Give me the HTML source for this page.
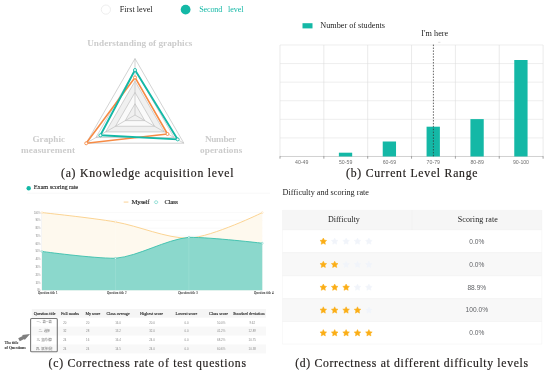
<!DOCTYPE html>
<html><head><meta charset="utf-8"><title>Figure</title>
<style>html,body{margin:0;padding:0;background:#fff}svg{display:block}</style></head>
<body>
<svg width="550" height="373" viewBox="0 0 550 373">
<rect width="550" height="373" fill="#ffffff"/>
<circle cx="105.9" cy="9.6" r="4.6" fill="#fff" stroke="#e6e6e6" stroke-width="0.7"/>
<text x="119.8" y="12.0" font-family='"Liberation Serif", serif' font-size="8.1" font-weight="normal" fill="#222" text-anchor="start" textLength="32.8" lengthAdjust="spacing" >First level</text>
<circle cx="185.6" cy="9.6" r="4.9" fill="#14b8a6"/>
<text x="199.2" y="12.0" font-family='"Liberation Serif", serif' font-size="8.1" font-weight="normal" fill="#14b8a6" text-anchor="start" textLength="23.1" lengthAdjust="spacing" >Second</text>
<text x="228.0" y="12.0" font-family='"Liberation Serif", serif' font-size="8.1" font-weight="normal" fill="#14b8a6" text-anchor="start" textLength="15.4" lengthAdjust="spacing" >level</text>
<text x="87.2" y="46.0" font-family='"Liberation Serif", serif' font-size="9.2" font-weight="bold" fill="#cccccc" text-anchor="start" textLength="105.1" lengthAdjust="spacing" >Understanding of graphics</text>
<text x="32.5" y="141.5" font-family='"Liberation Serif", serif' font-size="9.2" font-weight="bold" fill="#cccccc" text-anchor="start" textLength="32.5" lengthAdjust="spacing" >Graphic</text>
<text x="21.0" y="152.9" font-family='"Liberation Serif", serif' font-size="9.2" font-weight="bold" fill="#cccccc" text-anchor="start" textLength="54.0" lengthAdjust="spacing" >measurement</text>
<text x="205.0" y="141.5" font-family='"Liberation Serif", serif' font-size="9.2" font-weight="bold" fill="#cccccc" text-anchor="start" textLength="31.0" lengthAdjust="spacing" >Number</text>
<text x="200.0" y="153.2" font-family='"Liberation Serif", serif' font-size="9.2" font-weight="bold" fill="#cccccc" text-anchor="start" textLength="42.3" lengthAdjust="spacing" >operations</text>
<polygon points="135.00,58.60 183.84,143.20 86.16,143.20" fill="#ffffff" stroke="#c0c0c0" stroke-width="0.7"/>
<polygon points="135.00,69.88 174.08,137.56 95.92,137.56" fill="#ffffff" stroke="#c0c0c0" stroke-width="0.7"/>
<polygon points="135.00,81.16 164.31,131.92 105.69,131.92" fill="#f0f0f0" stroke="#c0c0c0" stroke-width="0.7"/>
<polygon points="135.00,92.44 154.54,126.28 115.46,126.28" fill="#fafafa" stroke="#c0c0c0" stroke-width="0.7"/>
<polygon points="135.00,103.72 144.77,120.64 125.23,120.64" fill="#f0f0f0" stroke="#c0c0c0" stroke-width="0.7"/>
<line x1="135.00" y1="115.00" x2="135.00" y2="58.60" stroke="#c0c0c0" stroke-width="0.7" />
<line x1="135.00" y1="115.00" x2="183.84" y2="143.20" stroke="#c0c0c0" stroke-width="0.7" />
<line x1="135.00" y1="115.00" x2="86.16" y2="143.20" stroke="#c0c0c0" stroke-width="0.7" />
<polygon points="135.0,77.4 167.5,134.0 86.2,143.3" fill="none" stroke="#f68b45" stroke-width="1.6" stroke-linejoin="round"/>
<circle cx="135.0" cy="77.4" r="1.5" fill="#fff" stroke="#f68b45" stroke-width="0.9"/>
<circle cx="167.5" cy="134.0" r="1.5" fill="#fff" stroke="#f68b45" stroke-width="0.9"/>
<circle cx="86.2" cy="143.3" r="1.5" fill="#fff" stroke="#f68b45" stroke-width="0.9"/>
<polygon points="135.0,70.0 177.7,139.4 100.4,135.3" fill="none" stroke="#14b8a6" stroke-width="1.9" stroke-linejoin="round"/>
<circle cx="135.0" cy="70.0" r="1.5" fill="#fff" stroke="#14b8a6" stroke-width="0.9"/>
<circle cx="177.7" cy="139.4" r="1.5" fill="#fff" stroke="#14b8a6" stroke-width="0.9"/>
<circle cx="100.4" cy="135.3" r="1.5" fill="#fff" stroke="#14b8a6" stroke-width="0.9"/>
<text x="61.0" y="177.1" font-family='"Liberation Serif", serif' font-size="11.7" font-weight="normal" fill="#262220" text-anchor="start" textLength="172.5" lengthAdjust="spacing"  stroke="#262220" stroke-width="0.18">(a) Knowledge acquisition level</text>
<rect x="302.50" y="23.20" width="10.00" height="5.20" fill="#14b8a6" />
<text x="320.3" y="27.7" font-family='"Liberation Serif", serif' font-size="8.2" font-weight="normal" fill="#222" text-anchor="start" textLength="64.7" lengthAdjust="spacing" >Number of students</text>
<text x="421.3" y="36.1" font-family='"Liberation Serif", serif' font-size="8.2" font-weight="normal" fill="#222" text-anchor="start" textLength="26.9" lengthAdjust="spacing" >I'm here</text>
<line x1="280.00" y1="45.00" x2="543.10" y2="45.00" stroke="#e6e6e6" stroke-width="0.7" />
<line x1="280.00" y1="63.58" x2="543.10" y2="63.58" stroke="#e6e6e6" stroke-width="0.7" />
<line x1="280.00" y1="82.16" x2="543.10" y2="82.16" stroke="#e6e6e6" stroke-width="0.7" />
<line x1="280.00" y1="100.74" x2="543.10" y2="100.74" stroke="#e6e6e6" stroke-width="0.7" />
<line x1="280.00" y1="119.32" x2="543.10" y2="119.32" stroke="#e6e6e6" stroke-width="0.7" />
<line x1="280.00" y1="137.90" x2="543.10" y2="137.90" stroke="#e6e6e6" stroke-width="0.7" />
<line x1="280.00" y1="45.00" x2="280.00" y2="158.48" stroke="#dcdcdc" stroke-width="0.6" />
<line x1="323.85" y1="45.00" x2="323.85" y2="158.48" stroke="#dcdcdc" stroke-width="0.6" />
<line x1="367.70" y1="45.00" x2="367.70" y2="158.48" stroke="#dcdcdc" stroke-width="0.6" />
<line x1="411.55" y1="45.00" x2="411.55" y2="158.48" stroke="#dcdcdc" stroke-width="0.6" />
<line x1="455.40" y1="45.00" x2="455.40" y2="158.48" stroke="#dcdcdc" stroke-width="0.6" />
<line x1="499.25" y1="45.00" x2="499.25" y2="158.48" stroke="#dcdcdc" stroke-width="0.6" />
<line x1="543.10" y1="45.00" x2="543.10" y2="158.48" stroke="#dcdcdc" stroke-width="0.6" />
<line x1="280.00" y1="156.48" x2="543.10" y2="156.48" stroke="#b0b0b0" stroke-width="0.6" />
<line x1="280.00" y1="156.18" x2="280.00" y2="158.68" stroke="#777" stroke-width="0.6" />
<line x1="323.85" y1="156.18" x2="323.85" y2="158.68" stroke="#777" stroke-width="0.6" />
<line x1="367.70" y1="156.18" x2="367.70" y2="158.68" stroke="#777" stroke-width="0.6" />
<line x1="411.55" y1="156.18" x2="411.55" y2="158.68" stroke="#777" stroke-width="0.6" />
<line x1="455.40" y1="156.18" x2="455.40" y2="158.68" stroke="#777" stroke-width="0.6" />
<line x1="499.25" y1="156.18" x2="499.25" y2="158.68" stroke="#777" stroke-width="0.6" />
<line x1="543.10" y1="156.18" x2="543.10" y2="158.68" stroke="#777" stroke-width="0.6" />
<text x="295.0" y="163.7" font-family='"Liberation Sans", sans-serif' font-size="5.2" font-weight="normal" fill="#707070" text-anchor="start" textLength="13.4" lengthAdjust="spacing" >40-49</text>
<rect x="338.88" y="152.70" width="13.30" height="3.78" fill="#14b8a6" />
<text x="338.9" y="163.7" font-family='"Liberation Sans", sans-serif' font-size="5.2" font-weight="normal" fill="#707070" text-anchor="start" textLength="13.4" lengthAdjust="spacing" >50-59</text>
<rect x="382.73" y="141.50" width="13.30" height="14.98" fill="#14b8a6" />
<text x="382.7" y="163.7" font-family='"Liberation Sans", sans-serif' font-size="5.2" font-weight="normal" fill="#707070" text-anchor="start" textLength="13.4" lengthAdjust="spacing" >60-69</text>
<rect x="426.58" y="126.70" width="13.30" height="29.78" fill="#14b8a6" />
<text x="426.6" y="163.7" font-family='"Liberation Sans", sans-serif' font-size="5.2" font-weight="normal" fill="#707070" text-anchor="start" textLength="13.4" lengthAdjust="spacing" >70-79</text>
<rect x="470.43" y="119.10" width="13.30" height="37.38" fill="#14b8a6" />
<text x="470.4" y="163.7" font-family='"Liberation Sans", sans-serif' font-size="5.2" font-weight="normal" fill="#707070" text-anchor="start" textLength="13.4" lengthAdjust="spacing" >80-89</text>
<rect x="514.27" y="60.00" width="13.30" height="96.48" fill="#14b8a6" />
<text x="513.0" y="163.7" font-family='"Liberation Sans", sans-serif' font-size="5.2" font-weight="normal" fill="#707070" text-anchor="start" textLength="16.0" lengthAdjust="spacing" >90-100</text>
<line x1="433.40" y1="44.60" x2="433.40" y2="156.48" stroke="#333" stroke-width="0.75" stroke-dasharray="1.5 1.4"/>
<line x1="438.20" y1="42.30" x2="440.40" y2="42.30" stroke="#aaaaaa" stroke-width="0.4" />
<text x="346.0" y="177.1" font-family='"Liberation Serif", serif' font-size="11.7" font-weight="normal" fill="#262220" text-anchor="start" textLength="131.5" lengthAdjust="spacing"  stroke="#262220" stroke-width="0.18">(b) Current Level Range</text>
<circle cx="28.7" cy="188.3" r="2.2" fill="#14b8a6"/>
<text x="33.8" y="189.3" font-family='"Liberation Serif", serif' font-size="6.4" font-weight="normal" fill="#222" text-anchor="start" textLength="44.4" lengthAdjust="spacing"  stroke="#222" stroke-width="0.1">Exam scoring rate</text>
<line x1="27.00" y1="193.20" x2="270.00" y2="193.20" stroke="#eeeeee" stroke-width="0.5" />
<line x1="123.70" y1="202.10" x2="128.40" y2="202.10" stroke="#fcdcae" stroke-width="1.3" />
<text x="131.5" y="204.2" font-family='"Liberation Serif", serif' font-size="6.8" font-weight="normal" fill="#222" text-anchor="start" textLength="17.9" lengthAdjust="spacing"  stroke="#222" stroke-width="0.12">Myself</text>
<line x1="153.60" y1="202.20" x2="158.60" y2="202.20" stroke="#c9ece7" stroke-width="0.6" />
<circle cx="156.1" cy="202.2" r="1.5" fill="#fff" stroke="#5fd0c2" stroke-width="0.6"/>
<text x="164.6" y="204.2" font-family='"Liberation Serif", serif' font-size="6.8" font-weight="normal" fill="#222" text-anchor="start" textLength="13.4" lengthAdjust="spacing"  stroke="#222" stroke-width="0.12">Class</text>
<line x1="42.00" y1="290.30" x2="262.30" y2="290.30" stroke="#f0f0f0" stroke-width="0.4" />
<text x="37.1" y="291.3" font-family='"Liberation Sans", sans-serif' font-size="3" font-weight="normal" fill="#999" text-anchor="start" textLength="3.4" lengthAdjust="spacing" >0%</text>
<line x1="42.00" y1="282.53" x2="262.30" y2="282.53" stroke="#f0f0f0" stroke-width="0.4" />
<text x="35.4" y="283.5" font-family='"Liberation Sans", sans-serif' font-size="3" font-weight="normal" fill="#999" text-anchor="start" textLength="5.1" lengthAdjust="spacing" >10%</text>
<line x1="42.00" y1="274.76" x2="262.30" y2="274.76" stroke="#f0f0f0" stroke-width="0.4" />
<text x="35.4" y="275.8" font-family='"Liberation Sans", sans-serif' font-size="3" font-weight="normal" fill="#999" text-anchor="start" textLength="5.1" lengthAdjust="spacing" >20%</text>
<line x1="42.00" y1="266.99" x2="262.30" y2="266.99" stroke="#f0f0f0" stroke-width="0.4" />
<text x="35.4" y="268.0" font-family='"Liberation Sans", sans-serif' font-size="3" font-weight="normal" fill="#999" text-anchor="start" textLength="5.1" lengthAdjust="spacing" >30%</text>
<line x1="42.00" y1="259.22" x2="262.30" y2="259.22" stroke="#f0f0f0" stroke-width="0.4" />
<text x="35.4" y="260.2" font-family='"Liberation Sans", sans-serif' font-size="3" font-weight="normal" fill="#999" text-anchor="start" textLength="5.1" lengthAdjust="spacing" >40%</text>
<line x1="42.00" y1="251.45" x2="262.30" y2="251.45" stroke="#f0f0f0" stroke-width="0.4" />
<text x="35.4" y="252.4" font-family='"Liberation Sans", sans-serif' font-size="3" font-weight="normal" fill="#999" text-anchor="start" textLength="5.1" lengthAdjust="spacing" >50%</text>
<line x1="42.00" y1="243.68" x2="262.30" y2="243.68" stroke="#f0f0f0" stroke-width="0.4" />
<text x="35.4" y="244.7" font-family='"Liberation Sans", sans-serif' font-size="3" font-weight="normal" fill="#999" text-anchor="start" textLength="5.1" lengthAdjust="spacing" >60%</text>
<line x1="42.00" y1="235.91" x2="262.30" y2="235.91" stroke="#f0f0f0" stroke-width="0.4" />
<text x="35.4" y="236.9" font-family='"Liberation Sans", sans-serif' font-size="3" font-weight="normal" fill="#999" text-anchor="start" textLength="5.1" lengthAdjust="spacing" >70%</text>
<line x1="42.00" y1="228.14" x2="262.30" y2="228.14" stroke="#f0f0f0" stroke-width="0.4" />
<text x="35.4" y="229.1" font-family='"Liberation Sans", sans-serif' font-size="3" font-weight="normal" fill="#999" text-anchor="start" textLength="5.1" lengthAdjust="spacing" >80%</text>
<line x1="42.00" y1="220.37" x2="262.30" y2="220.37" stroke="#f0f0f0" stroke-width="0.4" />
<text x="35.4" y="221.4" font-family='"Liberation Sans", sans-serif' font-size="3" font-weight="normal" fill="#999" text-anchor="start" textLength="5.1" lengthAdjust="spacing" >90%</text>
<line x1="42.00" y1="212.60" x2="262.30" y2="212.60" stroke="#f0f0f0" stroke-width="0.4" />
<text x="33.7" y="213.6" font-family='"Liberation Sans", sans-serif' font-size="3" font-weight="normal" fill="#999" text-anchor="start" textLength="6.8" lengthAdjust="spacing" >100%</text>
<line x1="42.00" y1="212.60" x2="42.00" y2="290.30" stroke="#cccccc" stroke-width="0.4" />
<path d="M42.00,212.60 C42.00,212.60 92.10,217.86 115.40,221.92 C139.11,226.06 165.77,238.24 188.90,238.24 C212.78,236.73 262.30,212.60 262.30,212.60 L262.3,290.3 L42,290.3 Z" fill="#fef9ee"/>
<path d="M42.00,212.60 C42.00,212.60 92.10,217.86 115.40,221.92 C139.11,226.06 165.77,238.24 188.90,238.24 C212.78,236.73 262.30,212.60 262.30,212.60" fill="none" stroke="#fbcf88" stroke-width="0.9"/>
<circle cx="42.0" cy="212.6" r="0.9" fill="#fff" stroke="#fbd28f" stroke-width="0.4"/>
<circle cx="115.4" cy="221.9" r="0.9" fill="#fff" stroke="#fbd28f" stroke-width="0.4"/>
<circle cx="188.9" cy="238.2" r="0.9" fill="#fff" stroke="#fbd28f" stroke-width="0.4"/>
<circle cx="262.3" cy="212.6" r="0.9" fill="#fff" stroke="#fbd28f" stroke-width="0.4"/>
<path d="M42.00,251.45 C42.00,251.45 92.32,258.29 115.40,258.29 C139.33,255.98 164.96,239.77 188.90,237.31 C211.97,237.31 262.30,243.21 262.30,243.21 L262.3,290.3 L42,290.3 Z" fill="#8bd8cc"/>
<path d="M42.00,251.45 C42.00,251.45 92.32,258.29 115.40,258.29 C139.33,255.98 164.96,239.77 188.90,237.31 C211.97,237.31 262.30,243.21 262.30,243.21" fill="none" stroke="#3bbfad" stroke-width="0.9"/>
<circle cx="42.0" cy="251.5" r="0.9" fill="#fff" stroke="#3fc1b0" stroke-width="0.4"/>
<circle cx="115.4" cy="258.3" r="0.9" fill="#fff" stroke="#3fc1b0" stroke-width="0.4"/>
<circle cx="188.9" cy="237.3" r="0.9" fill="#fff" stroke="#3fc1b0" stroke-width="0.4"/>
<circle cx="262.3" cy="243.2" r="0.9" fill="#fff" stroke="#3fc1b0" stroke-width="0.4"/>
<line x1="115.40" y1="212.60" x2="115.40" y2="290.30" stroke="#ffffff" stroke-width="0.3" opacity="0.35"/>
<line x1="188.90" y1="212.60" x2="188.90" y2="290.30" stroke="#ffffff" stroke-width="0.3" opacity="0.35"/>
<text x="38.0" y="294.3" font-family='"Liberation Serif", serif' font-size="3.1" font-weight="normal" fill="#333" text-anchor="start" textLength="19.6" lengthAdjust="spacing"  stroke="#333" stroke-width="0.08">Question title 1</text>
<text x="107.0" y="294.3" font-family='"Liberation Serif", serif' font-size="3.1" font-weight="normal" fill="#333" text-anchor="start" textLength="19.6" lengthAdjust="spacing"  stroke="#333" stroke-width="0.08">Question title 2</text>
<text x="178.2" y="294.3" font-family='"Liberation Serif", serif' font-size="3.1" font-weight="normal" fill="#333" text-anchor="start" textLength="19.6" lengthAdjust="spacing"  stroke="#333" stroke-width="0.08">Question title 3</text>
<text x="254.0" y="294.3" font-family='"Liberation Serif", serif' font-size="3.1" font-weight="normal" fill="#333" text-anchor="start" textLength="19.6" lengthAdjust="spacing"  stroke="#333" stroke-width="0.08">Question title 4</text>
<rect x="31.80" y="309.00" width="234.20" height="8.70" fill="#f5f5f5" />
<rect x="31.80" y="326.55" width="234.20" height="8.95" fill="#f8f8f8" />
<rect x="31.80" y="344.45" width="234.20" height="8.95" fill="#f8f8f8" />
<text x="33.7" y="314.9" font-family='"Liberation Serif", serif' font-size="4.2" font-weight="normal" fill="#222" text-anchor="start" textLength="21.9" lengthAdjust="spacing"  stroke="#222" stroke-width="0.1">Question title</text>
<text x="61.0" y="314.9" font-family='"Liberation Serif", serif' font-size="4.2" font-weight="normal" fill="#222" text-anchor="start" textLength="18.0" lengthAdjust="spacing"  stroke="#222" stroke-width="0.1">Full marks</text>
<text x="85.5" y="314.9" font-family='"Liberation Serif", serif' font-size="4.2" font-weight="normal" fill="#222" text-anchor="start" textLength="14.8" lengthAdjust="spacing"  stroke="#222" stroke-width="0.1">My score</text>
<text x="106.4" y="314.9" font-family='"Liberation Serif", serif' font-size="4.2" font-weight="normal" fill="#222" text-anchor="start" textLength="23.4" lengthAdjust="spacing"  stroke="#222" stroke-width="0.1">Class average</text>
<text x="140.0" y="314.9" font-family='"Liberation Serif", serif' font-size="4.2" font-weight="normal" fill="#222" text-anchor="start" textLength="23.0" lengthAdjust="spacing"  stroke="#222" stroke-width="0.1">Highest score</text>
<text x="175.4" y="314.9" font-family='"Liberation Serif", serif' font-size="4.2" font-weight="normal" fill="#222" text-anchor="start" textLength="21.9" lengthAdjust="spacing"  stroke="#222" stroke-width="0.1">Lowest score</text>
<text x="209.0" y="314.9" font-family='"Liberation Serif", serif' font-size="4.2" font-weight="normal" fill="#222" text-anchor="start" textLength="19.0" lengthAdjust="spacing"  stroke="#222" stroke-width="0.1">Class score</text>
<text x="233.0" y="314.9" font-family='"Liberation Serif", serif' font-size="4.2" font-weight="normal" fill="#222" text-anchor="start" textLength="31.6" lengthAdjust="spacing"  stroke="#222" stroke-width="0.1">Standard deviation</text>
<text x="36.6" y="323.4" font-family='"Liberation Sans", "Noto Sans CJK SC", sans-serif' font-size="3.2" font-weight="normal" fill="#777777" text-anchor="start" textLength="15.2" lengthAdjust="spacing" >一、填一填</text>
<text x="63.2" y="323.5" font-family='"Liberation Sans", sans-serif' font-size="2.9" font-weight="normal" fill="#8a8a8a" text-anchor="start" textLength="3.2" lengthAdjust="spacing" >20</text>
<text x="86.1" y="323.5" font-family='"Liberation Sans", sans-serif' font-size="2.9" font-weight="normal" fill="#8a8a8a" text-anchor="start" textLength="3.2" lengthAdjust="spacing" >20</text>
<text x="115.2" y="323.5" font-family='"Liberation Sans", sans-serif' font-size="2.9" font-weight="normal" fill="#8a8a8a" text-anchor="start" textLength="5.7" lengthAdjust="spacing" >16.0</text>
<text x="149.2" y="323.5" font-family='"Liberation Sans", sans-serif' font-size="2.9" font-weight="normal" fill="#8a8a8a" text-anchor="start" textLength="5.7" lengthAdjust="spacing" >20.0</text>
<text x="184.5" y="323.5" font-family='"Liberation Sans", sans-serif' font-size="2.9" font-weight="normal" fill="#8a8a8a" text-anchor="start" textLength="4.0" lengthAdjust="spacing" >0.0</text>
<text x="217.0" y="323.5" font-family='"Liberation Sans", sans-serif' font-size="2.9" font-weight="normal" fill="#8a8a8a" text-anchor="start" textLength="8.3" lengthAdjust="spacing" >50.0%</text>
<text x="249.4" y="323.5" font-family='"Liberation Sans", sans-serif' font-size="2.9" font-weight="normal" fill="#8a8a8a" text-anchor="start" textLength="5.7" lengthAdjust="spacing" >9.62</text>
<text x="38.5" y="332.3" font-family='"Liberation Sans", "Noto Sans CJK SC", sans-serif' font-size="3.2" font-weight="normal" fill="#777777" text-anchor="start" textLength="11.5" lengthAdjust="spacing" >二、选择</text>
<text x="63.2" y="332.4" font-family='"Liberation Sans", sans-serif' font-size="2.9" font-weight="normal" fill="#8a8a8a" text-anchor="start" textLength="3.2" lengthAdjust="spacing" >32</text>
<text x="86.1" y="332.4" font-family='"Liberation Sans", sans-serif' font-size="2.9" font-weight="normal" fill="#8a8a8a" text-anchor="start" textLength="3.2" lengthAdjust="spacing" >28</text>
<text x="115.2" y="332.4" font-family='"Liberation Sans", sans-serif' font-size="2.9" font-weight="normal" fill="#8a8a8a" text-anchor="start" textLength="5.7" lengthAdjust="spacing" >13.2</text>
<text x="149.2" y="332.4" font-family='"Liberation Sans", sans-serif' font-size="2.9" font-weight="normal" fill="#8a8a8a" text-anchor="start" textLength="5.7" lengthAdjust="spacing" >32.0</text>
<text x="184.5" y="332.4" font-family='"Liberation Sans", sans-serif' font-size="2.9" font-weight="normal" fill="#8a8a8a" text-anchor="start" textLength="4.0" lengthAdjust="spacing" >0.0</text>
<text x="217.0" y="332.4" font-family='"Liberation Sans", sans-serif' font-size="2.9" font-weight="normal" fill="#8a8a8a" text-anchor="start" textLength="8.3" lengthAdjust="spacing" >41.2%</text>
<text x="248.6" y="332.4" font-family='"Liberation Sans", sans-serif' font-size="2.9" font-weight="normal" fill="#8a8a8a" text-anchor="start" textLength="7.3" lengthAdjust="spacing" >12.89</text>
<text x="36.4" y="341.1" font-family='"Liberation Sans", "Noto Sans CJK SC", sans-serif' font-size="3.2" font-weight="normal" fill="#777777" text-anchor="start" textLength="15.6" lengthAdjust="spacing" >三、竖式计算</text>
<text x="63.2" y="341.2" font-family='"Liberation Sans", sans-serif' font-size="2.9" font-weight="normal" fill="#8a8a8a" text-anchor="start" textLength="3.2" lengthAdjust="spacing" >24</text>
<text x="86.1" y="341.2" font-family='"Liberation Sans", sans-serif' font-size="2.9" font-weight="normal" fill="#8a8a8a" text-anchor="start" textLength="3.2" lengthAdjust="spacing" >16</text>
<text x="115.2" y="341.2" font-family='"Liberation Sans", sans-serif' font-size="2.9" font-weight="normal" fill="#8a8a8a" text-anchor="start" textLength="5.7" lengthAdjust="spacing" >16.4</text>
<text x="149.2" y="341.2" font-family='"Liberation Sans", sans-serif' font-size="2.9" font-weight="normal" fill="#8a8a8a" text-anchor="start" textLength="5.7" lengthAdjust="spacing" >24.0</text>
<text x="184.5" y="341.2" font-family='"Liberation Sans", sans-serif' font-size="2.9" font-weight="normal" fill="#8a8a8a" text-anchor="start" textLength="4.0" lengthAdjust="spacing" >0.0</text>
<text x="217.0" y="341.2" font-family='"Liberation Sans", sans-serif' font-size="2.9" font-weight="normal" fill="#8a8a8a" text-anchor="start" textLength="8.3" lengthAdjust="spacing" >68.2%</text>
<text x="248.6" y="341.2" font-family='"Liberation Sans", sans-serif' font-size="2.9" font-weight="normal" fill="#8a8a8a" text-anchor="start" textLength="7.3" lengthAdjust="spacing" >10.75</text>
<text x="36.1" y="350.0" font-family='"Liberation Sans", "Noto Sans CJK SC", sans-serif' font-size="3.2" font-weight="normal" fill="#777777" text-anchor="start" textLength="16.3" lengthAdjust="spacing" >四、解决问题</text>
<text x="63.2" y="350.1" font-family='"Liberation Sans", sans-serif' font-size="2.9" font-weight="normal" fill="#8a8a8a" text-anchor="start" textLength="3.2" lengthAdjust="spacing" >24</text>
<text x="86.1" y="350.1" font-family='"Liberation Sans", sans-serif' font-size="2.9" font-weight="normal" fill="#8a8a8a" text-anchor="start" textLength="3.2" lengthAdjust="spacing" >24</text>
<text x="115.2" y="350.1" font-family='"Liberation Sans", sans-serif' font-size="2.9" font-weight="normal" fill="#8a8a8a" text-anchor="start" textLength="5.7" lengthAdjust="spacing" >14.5</text>
<text x="149.2" y="350.1" font-family='"Liberation Sans", sans-serif' font-size="2.9" font-weight="normal" fill="#8a8a8a" text-anchor="start" textLength="5.7" lengthAdjust="spacing" >24.0</text>
<text x="184.5" y="350.1" font-family='"Liberation Sans", sans-serif' font-size="2.9" font-weight="normal" fill="#8a8a8a" text-anchor="start" textLength="4.0" lengthAdjust="spacing" >0.0</text>
<text x="217.0" y="350.1" font-family='"Liberation Sans", sans-serif' font-size="2.9" font-weight="normal" fill="#8a8a8a" text-anchor="start" textLength="8.3" lengthAdjust="spacing" >60.6%</text>
<text x="248.6" y="350.1" font-family='"Liberation Sans", sans-serif' font-size="2.9" font-weight="normal" fill="#8a8a8a" text-anchor="start" textLength="7.3" lengthAdjust="spacing" >10.38</text>
<rect x="30.6" y="318.5" width="26.7" height="33.3" rx="1" fill="none" stroke="#787878" stroke-width="1.1"/>
<polygon points="19.78,341.31 24.21,339.01 24.67,339.90 30.00,334.10 22.19,335.11 22.65,336.00 18.22,338.29" fill="#7f7f7f"/>
<text x="4.6" y="343.6" font-family='"Liberation Serif", serif' font-size="4.2" font-weight="bold" fill="#222" text-anchor="start" textLength="13.9" lengthAdjust="spacing" >The title</text>
<text x="4.4" y="348.5" font-family='"Liberation Serif", serif' font-size="4.2" font-weight="bold" fill="#222" text-anchor="start" textLength="21.4" lengthAdjust="spacing" >of Questions</text>
<text x="48.6" y="366.7" font-family='"Liberation Serif", serif' font-size="11.7" font-weight="normal" fill="#262220" text-anchor="start" textLength="197.4" lengthAdjust="spacing"  stroke="#262220" stroke-width="0.18">(c) Correctness rate of test questions</text>
<text x="282.6" y="195.4" font-family='"Liberation Serif", serif' font-size="8.2" font-weight="normal" fill="#222" text-anchor="start" textLength="86.4" lengthAdjust="spacing" >Difficulty and scoring rate</text>
<rect x="282.40" y="209.90" width="259.40" height="19.80" fill="#f6f6f6" />
<rect x="282.40" y="252.60" width="259.40" height="23.10" fill="#f8f8f8" />
<rect x="282.40" y="298.60" width="259.40" height="22.90" fill="#f8f8f8" />
<line x1="282.40" y1="229.70" x2="541.80" y2="229.70" stroke="#eeeeee" stroke-width="0.5" />
<line x1="282.40" y1="252.60" x2="541.80" y2="252.60" stroke="#eeeeee" stroke-width="0.5" />
<line x1="282.40" y1="275.70" x2="541.80" y2="275.70" stroke="#eeeeee" stroke-width="0.5" />
<line x1="282.40" y1="298.60" x2="541.80" y2="298.60" stroke="#eeeeee" stroke-width="0.5" />
<line x1="282.40" y1="321.50" x2="541.80" y2="321.50" stroke="#eeeeee" stroke-width="0.5" />
<line x1="282.40" y1="344.10" x2="541.80" y2="344.10" stroke="#eeeeee" stroke-width="0.5" />
<line x1="282.40" y1="210.00" x2="282.40" y2="344.00" stroke="#f0f0f0" stroke-width="0.5" />
<line x1="541.80" y1="210.00" x2="541.80" y2="344.00" stroke="#f0f0f0" stroke-width="0.5" />
<line x1="412.00" y1="210.00" x2="412.00" y2="230.00" stroke="#efefef" stroke-width="0.5" />
<text x="328.0" y="222.2" font-family='"Liberation Serif", serif' font-size="8" font-weight="normal" fill="#222" text-anchor="start" textLength="31.7" lengthAdjust="spacing" >Difficulty</text>
<text x="457.8" y="222.2" font-family='"Liberation Serif", serif' font-size="8" font-weight="normal" fill="#222" text-anchor="start" textLength="40.0" lengthAdjust="spacing" >Scoring rate</text>
<polygon points="323.30,238.00 324.33,240.08 326.63,240.42 324.96,242.04 325.36,244.33 323.30,243.25 321.24,244.33 321.64,242.04 319.97,240.42 322.27,240.08" fill="#fbae17" stroke="#fbae17" stroke-width="0.5" stroke-linejoin="round"/>
<polygon points="334.70,238.00 335.73,240.08 338.03,240.42 336.36,242.04 336.76,244.33 334.70,243.25 332.64,244.33 333.04,242.04 331.37,240.42 333.67,240.08" fill="#f1f4fa" stroke="#f1f4fa" stroke-width="0.5" stroke-linejoin="round"/>
<polygon points="346.10,238.00 347.13,240.08 349.43,240.42 347.76,242.04 348.16,244.33 346.10,243.25 344.04,244.33 344.44,242.04 342.77,240.42 345.07,240.08" fill="#f1f4fa" stroke="#f1f4fa" stroke-width="0.5" stroke-linejoin="round"/>
<polygon points="357.50,238.00 358.53,240.08 360.83,240.42 359.16,242.04 359.56,244.33 357.50,243.25 355.44,244.33 355.84,242.04 354.17,240.42 356.47,240.08" fill="#f1f4fa" stroke="#f1f4fa" stroke-width="0.5" stroke-linejoin="round"/>
<polygon points="368.90,238.00 369.93,240.08 372.23,240.42 370.56,242.04 370.96,244.33 368.90,243.25 366.84,244.33 367.24,242.04 365.57,240.42 367.87,240.08" fill="#f1f4fa" stroke="#f1f4fa" stroke-width="0.5" stroke-linejoin="round"/>
<text x="469.2" y="243.6" font-family='"Liberation Sans", sans-serif' font-size="6.6" font-weight="normal" fill="#606266" text-anchor="start" textLength="15.1" lengthAdjust="spacing" >0.0%</text>
<polygon points="323.30,261.20 324.33,263.28 326.63,263.62 324.96,265.24 325.36,267.53 323.30,266.45 321.24,267.53 321.64,265.24 319.97,263.62 322.27,263.28" fill="#fbae17" stroke="#fbae17" stroke-width="0.5" stroke-linejoin="round"/>
<polygon points="334.70,261.20 335.73,263.28 338.03,263.62 336.36,265.24 336.76,267.53 334.70,266.45 332.64,267.53 333.04,265.24 331.37,263.62 333.67,263.28" fill="#fbae17" stroke="#fbae17" stroke-width="0.5" stroke-linejoin="round"/>
<polygon points="346.10,261.20 347.13,263.28 349.43,263.62 347.76,265.24 348.16,267.53 346.10,266.45 344.04,267.53 344.44,265.24 342.77,263.62 345.07,263.28" fill="#f1f4fa" stroke="#f1f4fa" stroke-width="0.5" stroke-linejoin="round"/>
<polygon points="357.50,261.20 358.53,263.28 360.83,263.62 359.16,265.24 359.56,267.53 357.50,266.45 355.44,267.53 355.84,265.24 354.17,263.62 356.47,263.28" fill="#f1f4fa" stroke="#f1f4fa" stroke-width="0.5" stroke-linejoin="round"/>
<polygon points="368.90,261.20 369.93,263.28 372.23,263.62 370.56,265.24 370.96,267.53 368.90,266.45 366.84,267.53 367.24,265.24 365.57,263.62 367.87,263.28" fill="#f1f4fa" stroke="#f1f4fa" stroke-width="0.5" stroke-linejoin="round"/>
<text x="469.2" y="266.8" font-family='"Liberation Sans", sans-serif' font-size="6.6" font-weight="normal" fill="#606266" text-anchor="start" textLength="15.1" lengthAdjust="spacing" >0.0%</text>
<polygon points="323.30,284.00 324.33,286.08 326.63,286.42 324.96,288.04 325.36,290.33 323.30,289.25 321.24,290.33 321.64,288.04 319.97,286.42 322.27,286.08" fill="#fbae17" stroke="#fbae17" stroke-width="0.5" stroke-linejoin="round"/>
<polygon points="334.70,284.00 335.73,286.08 338.03,286.42 336.36,288.04 336.76,290.33 334.70,289.25 332.64,290.33 333.04,288.04 331.37,286.42 333.67,286.08" fill="#fbae17" stroke="#fbae17" stroke-width="0.5" stroke-linejoin="round"/>
<polygon points="346.10,284.00 347.13,286.08 349.43,286.42 347.76,288.04 348.16,290.33 346.10,289.25 344.04,290.33 344.44,288.04 342.77,286.42 345.07,286.08" fill="#fbae17" stroke="#fbae17" stroke-width="0.5" stroke-linejoin="round"/>
<polygon points="357.50,284.00 358.53,286.08 360.83,286.42 359.16,288.04 359.56,290.33 357.50,289.25 355.44,290.33 355.84,288.04 354.17,286.42 356.47,286.08" fill="#f1f4fa" stroke="#f1f4fa" stroke-width="0.5" stroke-linejoin="round"/>
<polygon points="368.90,284.00 369.93,286.08 372.23,286.42 370.56,288.04 370.96,290.33 368.90,289.25 366.84,290.33 367.24,288.04 365.57,286.42 367.87,286.08" fill="#f1f4fa" stroke="#f1f4fa" stroke-width="0.5" stroke-linejoin="round"/>
<text x="467.4" y="289.6" font-family='"Liberation Sans", sans-serif' font-size="6.6" font-weight="normal" fill="#606266" text-anchor="start" textLength="18.8" lengthAdjust="spacing" >88.9%</text>
<polygon points="323.30,306.80 324.33,308.88 326.63,309.22 324.96,310.84 325.36,313.13 323.30,312.05 321.24,313.13 321.64,310.84 319.97,309.22 322.27,308.88" fill="#fbae17" stroke="#fbae17" stroke-width="0.5" stroke-linejoin="round"/>
<polygon points="334.70,306.80 335.73,308.88 338.03,309.22 336.36,310.84 336.76,313.13 334.70,312.05 332.64,313.13 333.04,310.84 331.37,309.22 333.67,308.88" fill="#fbae17" stroke="#fbae17" stroke-width="0.5" stroke-linejoin="round"/>
<polygon points="346.10,306.80 347.13,308.88 349.43,309.22 347.76,310.84 348.16,313.13 346.10,312.05 344.04,313.13 344.44,310.84 342.77,309.22 345.07,308.88" fill="#fbae17" stroke="#fbae17" stroke-width="0.5" stroke-linejoin="round"/>
<polygon points="357.50,306.80 358.53,308.88 360.83,309.22 359.16,310.84 359.56,313.13 357.50,312.05 355.44,313.13 355.84,310.84 354.17,309.22 356.47,308.88" fill="#fbae17" stroke="#fbae17" stroke-width="0.5" stroke-linejoin="round"/>
<polygon points="368.90,306.80 369.93,308.88 372.23,309.22 370.56,310.84 370.96,313.13 368.90,312.05 366.84,313.13 367.24,310.84 365.57,309.22 367.87,308.88" fill="#f1f4fa" stroke="#f1f4fa" stroke-width="0.5" stroke-linejoin="round"/>
<text x="465.6" y="312.4" font-family='"Liberation Sans", sans-serif' font-size="6.6" font-weight="normal" fill="#606266" text-anchor="start" textLength="22.4" lengthAdjust="spacing" >100.0%</text>
<polygon points="323.30,329.60 324.33,331.68 326.63,332.02 324.96,333.64 325.36,335.93 323.30,334.85 321.24,335.93 321.64,333.64 319.97,332.02 322.27,331.68" fill="#fbae17" stroke="#fbae17" stroke-width="0.5" stroke-linejoin="round"/>
<polygon points="334.70,329.60 335.73,331.68 338.03,332.02 336.36,333.64 336.76,335.93 334.70,334.85 332.64,335.93 333.04,333.64 331.37,332.02 333.67,331.68" fill="#fbae17" stroke="#fbae17" stroke-width="0.5" stroke-linejoin="round"/>
<polygon points="346.10,329.60 347.13,331.68 349.43,332.02 347.76,333.64 348.16,335.93 346.10,334.85 344.04,335.93 344.44,333.64 342.77,332.02 345.07,331.68" fill="#fbae17" stroke="#fbae17" stroke-width="0.5" stroke-linejoin="round"/>
<polygon points="357.50,329.60 358.53,331.68 360.83,332.02 359.16,333.64 359.56,335.93 357.50,334.85 355.44,335.93 355.84,333.64 354.17,332.02 356.47,331.68" fill="#fbae17" stroke="#fbae17" stroke-width="0.5" stroke-linejoin="round"/>
<polygon points="368.90,329.60 369.93,331.68 372.23,332.02 370.56,333.64 370.96,335.93 368.90,334.85 366.84,335.93 367.24,333.64 365.57,332.02 367.87,331.68" fill="#fbae17" stroke="#fbae17" stroke-width="0.5" stroke-linejoin="round"/>
<text x="469.2" y="335.2" font-family='"Liberation Sans", sans-serif' font-size="6.6" font-weight="normal" fill="#606266" text-anchor="start" textLength="15.1" lengthAdjust="spacing" >0.0%</text>
<text x="295.2" y="366.6" font-family='"Liberation Serif", serif' font-size="11.7" font-weight="normal" fill="#262220" text-anchor="start" textLength="232.8" lengthAdjust="spacing"  stroke="#262220" stroke-width="0.18">(d) Correctness at different difficulty levels</text>
</svg>
</body></html>
